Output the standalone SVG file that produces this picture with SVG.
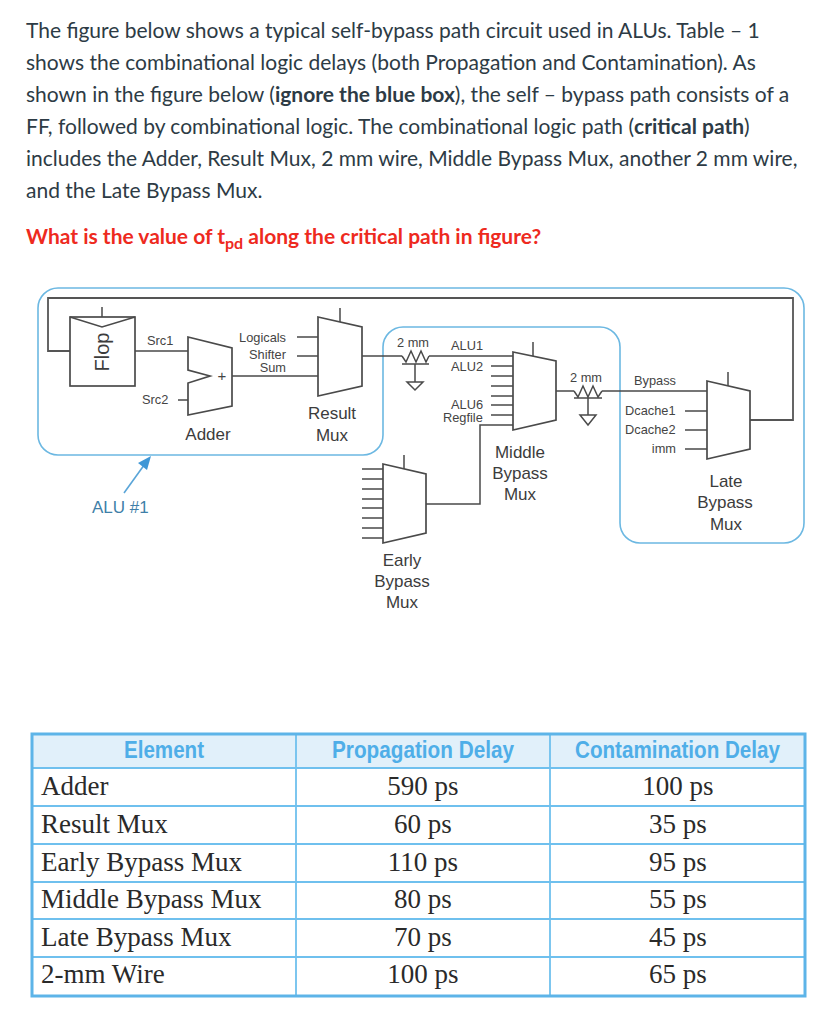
<svg xmlns="http://www.w3.org/2000/svg" width="830" height="1024" viewBox="0 0 830 1024">
<style>
.p{font-family:Lato,"Open Sans",sans-serif;font-size:21px;fill:#2d3b45}
.b{font-weight:700}
.r{font-family:Lato,"Open Sans",sans-serif;font-size:21px;font-weight:700;fill:#ee2a1e}
.s{font-family:"Liberation Sans",Arial,sans-serif;font-size:12.8px;fill:#444}
.m{font-family:"Liberation Sans",Arial,sans-serif;font-size:17px;fill:#3c3c3c;text-anchor:middle}
.e{text-anchor:end}
.w{fill:none;stroke:#4a4a4a;stroke-width:1.5}
.f{fill:none;stroke:#555;stroke-width:1.8}
.g{fill:#fff;stroke:#4a4a4a;stroke-width:1.7}
.t{fill:none;stroke:#6fc0ee;stroke-width:1.8}
.h{font-family:"Liberation Sans",Arial,sans-serif;font-size:23px;font-weight:700;fill:#4faee8}
.c{font-family:"Liberation Serif","Times New Roman",serif;font-size:27px;fill:#2a2a2a}
.n{text-anchor:middle}
</style>
<g id="question">
<text class="p" x="26" y="38">The figure below shows a typical self-bypass path circuit used in ALUs. Table – 1</text>
<text class="p" x="26" y="70">shows the combinational logic delays (both Propagation and Contamination). As</text>
<text class="p" x="26" y="102">shown in the figure below (<tspan class="b">ignore the blue box</tspan>), the self – bypass path consists of a</text>
<text class="p" x="26" y="134">FF, followed by combinational logic. The combinational logic path (<tspan class="b">critical path</tspan>)</text>
<text class="p" x="26" y="166">includes the Adder, Result Mux, 2 mm wire, Middle Bypass Mux, another 2 mm wire,</text>
<text class="p" x="26" y="198">and the Late Bypass Mux.</text>
<text class="r" x="26" y="244">What is the value of t<tspan font-size="16" dy="5">pd</tspan><tspan dy="-5"> along the critical path in figure?</tspan></text>
</g>
<g id="alu-box">
<path d="M58 288H784A20 20 0 0 1 804 308V523A20 20 0 0 1 784 543H640A20 20 0 0 1 620 523V347A20 20 0 0 0 600 327H403A20 20 0 0 0 383 347V435A20 20 0 0 1 363 455H58A20 20 0 0 1 38 435V308A20 20 0 0 1 58 288Z" fill="none" stroke="#6cb8e2" stroke-width="1.6"/>
<path d="M124 493L147 461" fill="none" stroke="#5aa5d8" stroke-width="1.6"/>
<polygon points="151,456 147,470 138,463" fill="#3f97d6"/>
<text x="92" y="513" font-family="Liberation Sans, Arial, sans-serif" font-size="17" fill="#3f7fa8">ALU #1</text>
</g>
<g id="connectors">
<path class="f" d="M70 351H48V298H793V420H750"/>
<path class="w" d="M135 351H188M178 400H188M232 376H318M297 337H318M297 356H318M362 356H402M429 356H513"/>
<path class="w" d="M491 366H513M491 376H513M491 386H513M491 396H513M491 405H513M491 415H513M513 425H480V504H426"/>
<path class="w" d="M556 391H574M602 391H707M685 411H707M685 430H707M685 449H707"/>
<path class="w" d="M362 469H383M362 479H383M362 489H383M362 499H383M362 508H383M362 518H383M362 528H383M362 538H383"/>
<path class="w" d="M102 307V317M340 308V322M533 342V356M728 372V386M404 455V470"/>
</g>
<g id="flop">
<rect class="g" x="70" y="317" width="65" height="69"/>
<path class="w" d="M70 317L102 327L135 317"/>
<text transform="translate(109 352) rotate(-90)" font-family="Liberation Sans, Arial, sans-serif" font-size="20" fill="#3c3c3c" text-anchor="middle">Flop</text>
</g>
<g id="adder">
<polygon class="g" points="188,337 232,348 232,406 188,415 188,383 210,376 188,370"/>
<text x="222" y="381" font-family="Liberation Sans, Arial, sans-serif" font-size="15" fill="#444" text-anchor="middle">+</text>
<text class="s" x="147" y="345">Src1</text>
<text class="s" x="142" y="404">Src2</text>
<text class="m" x="208" y="440">Adder</text>
</g>
<g id="result-mux">
<polygon class="g" points="318,317 362,327 362,386 318,396"/>
<text class="s e" x="286" y="342">Logicals</text>
<text class="s e" x="286" y="359">Shifter</text>
<text class="s e" x="286" y="372">Sum</text>
<text class="m" x="332" y="419">Result</text>
<text class="m" x="332" y="441">Mux</text>
</g>
<g id="wire-1">
<path class="w" d="M402 356L406 362L411 351L416 362L421 351L426 362L429 356M402 364H429M415 364V382"/>
<polygon points="407,382 423,382 415,390" fill="#fff" stroke="#4a4a4a" stroke-width="1.5"/>
<text class="s n" x="413" y="347">2 mm</text>
</g>
<g id="middle-mux">
<polygon class="g" points="513,352 556,361 556,420 513,430"/>
<text class="s" x="451" y="350">ALU1</text>
<text class="s" x="451" y="371">ALU2</text>
<text class="s" x="451" y="409">ALU6</text>
<text class="s" x="443" y="422">Regfile</text>
<text class="m" x="520" y="458">Middle</text>
<text class="m" x="520" y="479">Bypass</text>
<text class="m" x="520" y="500">Mux</text>
</g>
<g id="wire-2">
<path class="w" d="M574 391L578 397L583 386L588 397L593 386L598 397L602 391M574 398H602M588 398V415"/>
<polygon points="580,415 596,415 588,425" fill="#fff" stroke="#4a4a4a" stroke-width="1.5"/>
<text class="s n" x="586" y="382">2 mm</text>
</g>
<g id="late-mux">
<polygon class="g" points="707,381 750,391 750,449 707,459"/>
<text class="s" x="634" y="385">Bypass</text>
<text class="s" x="625" y="415">Dcache1</text>
<text class="s" x="625" y="434">Dcache2</text>
<text class="s e" x="676" y="453">imm</text>
<text class="m" x="726" y="487">Late</text>
<text class="m" x="725" y="508">Bypass</text>
<text class="m" x="726" y="530">Mux</text>
</g>
<g id="early-mux">
<polygon class="g" points="383,464 426,474 426,533 383,543"/>
<text class="m" x="402" y="566">Early</text>
<text class="m" x="402" y="587">Bypass</text>
<text class="m" x="402" y="608">Mux</text>
</g>
<g id="table">
<rect x="32" y="734" width="773" height="34" fill="#e1f0fa"/>
<path class="t" d="M32 768H805M32 806H805M32 844H805M32 882H805M32 919H805M32 957H805M296 734V996M550 734V996"/>
<rect x="32" y="734" width="773" height="262" fill="none" stroke="#5db4e8" stroke-width="3"/>
<text class="h" x="124" y="758" textLength="80" lengthAdjust="spacingAndGlyphs">Element</text>
<text class="h" x="332" y="758" textLength="182" lengthAdjust="spacingAndGlyphs">Propagation Delay</text>
<text class="h" x="575" y="758" textLength="205" lengthAdjust="spacingAndGlyphs">Contamination Delay</text>
<text class="c" x="41" y="795">Adder</text>
<text class="c" x="41" y="833">Result Mux</text>
<text class="c" x="41" y="871">Early Bypass Mux</text>
<text class="c" x="41" y="908">Middle Bypass Mux</text>
<text class="c" x="41" y="946">Late Bypass Mux</text>
<text class="c" x="41" y="983">2-mm Wire</text>
<text class="c n" x="423" y="795">590 ps</text>
<text class="c n" x="423" y="833">60 ps</text>
<text class="c n" x="423" y="871">110 ps</text>
<text class="c n" x="423" y="908">80 ps</text>
<text class="c n" x="423" y="946">70 ps</text>
<text class="c n" x="423" y="983">100 ps</text>
<text class="c n" x="678" y="795">100 ps</text>
<text class="c n" x="678" y="833">35 ps</text>
<text class="c n" x="678" y="871">95 ps</text>
<text class="c n" x="678" y="908">55 ps</text>
<text class="c n" x="678" y="946">45 ps</text>
<text class="c n" x="678" y="983">65 ps</text>
</g>
</svg>
